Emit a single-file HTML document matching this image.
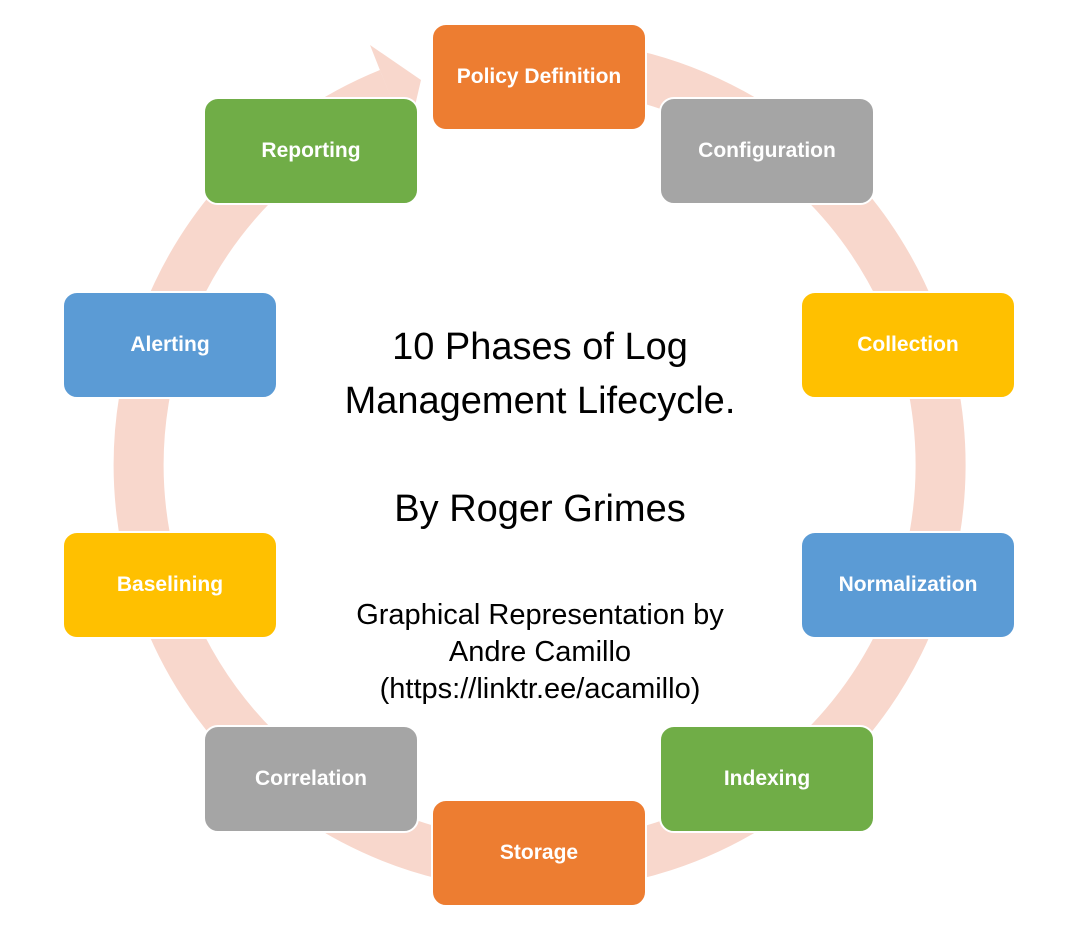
<!DOCTYPE html>
<html><head><style>
body{margin:0;width:1071px;height:935px;background:#fff;position:relative;overflow:hidden;font-family:"Liberation Sans",sans-serif}
.b{position:absolute;width:212px;height:104px;border:2px solid #fff;border-radius:15px;color:#fff;font-weight:bold;font-size:21px;display:flex;align-items:center;justify-content:center}
.t{position:absolute;left:190px;width:700px;text-align:center;color:#000}
</style></head><body>
<svg width="1071" height="935" style="position:absolute;left:0;top:0">
<path d="M442.5,75.9 A401,401 0 1 1 389.3,93.2" fill="none" stroke="#f8d7cc" stroke-width="50"/>
<polygon points="370,45 421,80 407.5,138 389,93" fill="#f8d7cc"/>
</svg>
<div class="b" style="left:431px;top:23px;background:#ed7d31">Policy Definition</div>
<div class="b" style="left:659px;top:97px;background:#a5a5a5">Configuration</div>
<div class="b" style="left:800px;top:291px;background:#ffc000">Collection</div>
<div class="b" style="left:800px;top:531px;background:#5b9bd5">Normalization</div>
<div class="b" style="left:659px;top:725px;background:#70ad47">Indexing</div>
<div class="b" style="left:431px;top:799px;background:#ed7d31">Storage</div>
<div class="b" style="left:203px;top:725px;background:#a5a5a5">Correlation</div>
<div class="b" style="left:62px;top:531px;background:#ffc000">Baselining</div>
<div class="b" style="left:62px;top:291px;background:#5b9bd5">Alerting</div>
<div class="b" style="left:203px;top:97px;background:#70ad47">Reporting</div>
<div class="t" style="top:320px;font-size:38px;line-height:54px">10 Phases of Log<br>Management Lifecycle.<br><br>By Roger Grimes</div>
<div class="t" style="top:597px;font-size:29px;line-height:37px">Graphical Representation by<br>Andre Camillo<br>(https://linktr.ee/acamillo)</div>
</body></html>
